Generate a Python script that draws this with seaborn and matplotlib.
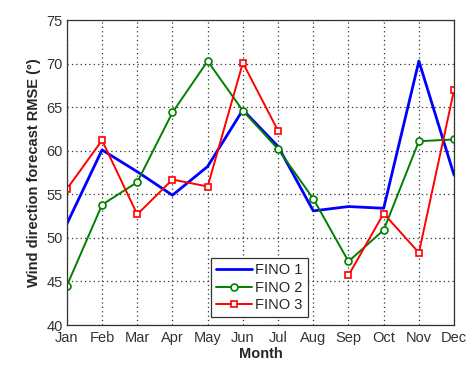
import numpy as np
import pandas as pd
import matplotlib
matplotlib.use("Agg")
import matplotlib.pyplot as plt
import seaborn as sns

months = ["Jan", "Feb", "Mar", "Apr", "May", "Jun",
          "Jul", "Aug", "Sep", "Oct", "Nov", "Dec"]
fino1 = [51.6, 60.1, 57.6, 54.9, 58.2, 64.7, 60.5, 53.1, 53.6, 53.4, 70.3, 57.2]
fino2 = [44.5, 53.8, 56.4, 64.4, 70.3, 64.6, 60.2, 54.5, 47.3, 50.9, 61.1, 61.3]
fino3 = [55.6, 61.2, 52.7, 56.7, 55.9, 70.1, 62.3, np.nan, 45.7, 52.8, 48.3, 67.0]

series = [
    ("FINO 1", fino1, "#0000ff", None, 2.0),
    ("FINO 2", fino2, "#008000", "o", 1.4),
    ("FINO 3", fino3, "#ff0000", "s", 1.4),
]

sns.set_theme(style="white")
plt.rcParams["font.family"] = ["Liberation Sans", "DejaVu Sans"]

fig = plt.figure(figsize=(4.74, 3.66), dpi=100)
ax = fig.add_axes([0.141, 0.112, 0.817, 0.833])

for name, vals, color, marker, lw in series:
    df = pd.DataFrame({"x": np.arange(len(months)), "y": vals})
    # split at missing values so the line breaks there
    df["seg"] = df["y"].isna().cumsum()
    df = df.dropna()
    first = True
    for _, part in df.groupby("seg"):
        sns.lineplot(data=part, x="x", y="y", ax=ax, color=color,
                     linewidth=lw, marker=marker, markersize=5,
                     markerfacecolor="white", markeredgecolor=color,
                     markeredgewidth=1.2, label=name if first else None,
                     legend=False)
        first = False

ax.set_xlim(0, 11)
ax.set_ylim(40, 75)
ax.set_xticks(np.arange(len(months)))
ax.set_xticklabels(months)
ax.set_yticks(np.arange(40, 76, 5))
ax.tick_params(direction="in", length=3, labelsize=10.5, colors="#333333")
ax.tick_params(axis="x", pad=4)
ax.tick_params(axis="y", pad=3)
ax.grid(True, linestyle=(0, (1, 2.5)), color="#333333", linewidth=0.9)
for s in ax.spines.values():
    s.set_color("#333333")
    s.set_linewidth(0.9)

ax.set_xlabel("Month", fontsize=10.5, fontweight="bold", labelpad=2)
ax.set_ylabel("Wind direction forecast RMSE (°)", fontsize=10.5,
              fontweight="bold", labelpad=4)

handles, labels = ax.get_legend_handles_labels()
leg = ax.legend(handles, labels, loc="lower left",
                bbox_to_anchor=(0.372, 0.025), fontsize=10.5,
                fancybox=False, edgecolor="#333333", framealpha=1,
                borderpad=0.35, labelspacing=0.25, handlelength=2.5,
                handletextpad=0.2, borderaxespad=0)
leg.get_frame().set_linewidth(0.9)

fig.savefig("out.png", dpi=100)
